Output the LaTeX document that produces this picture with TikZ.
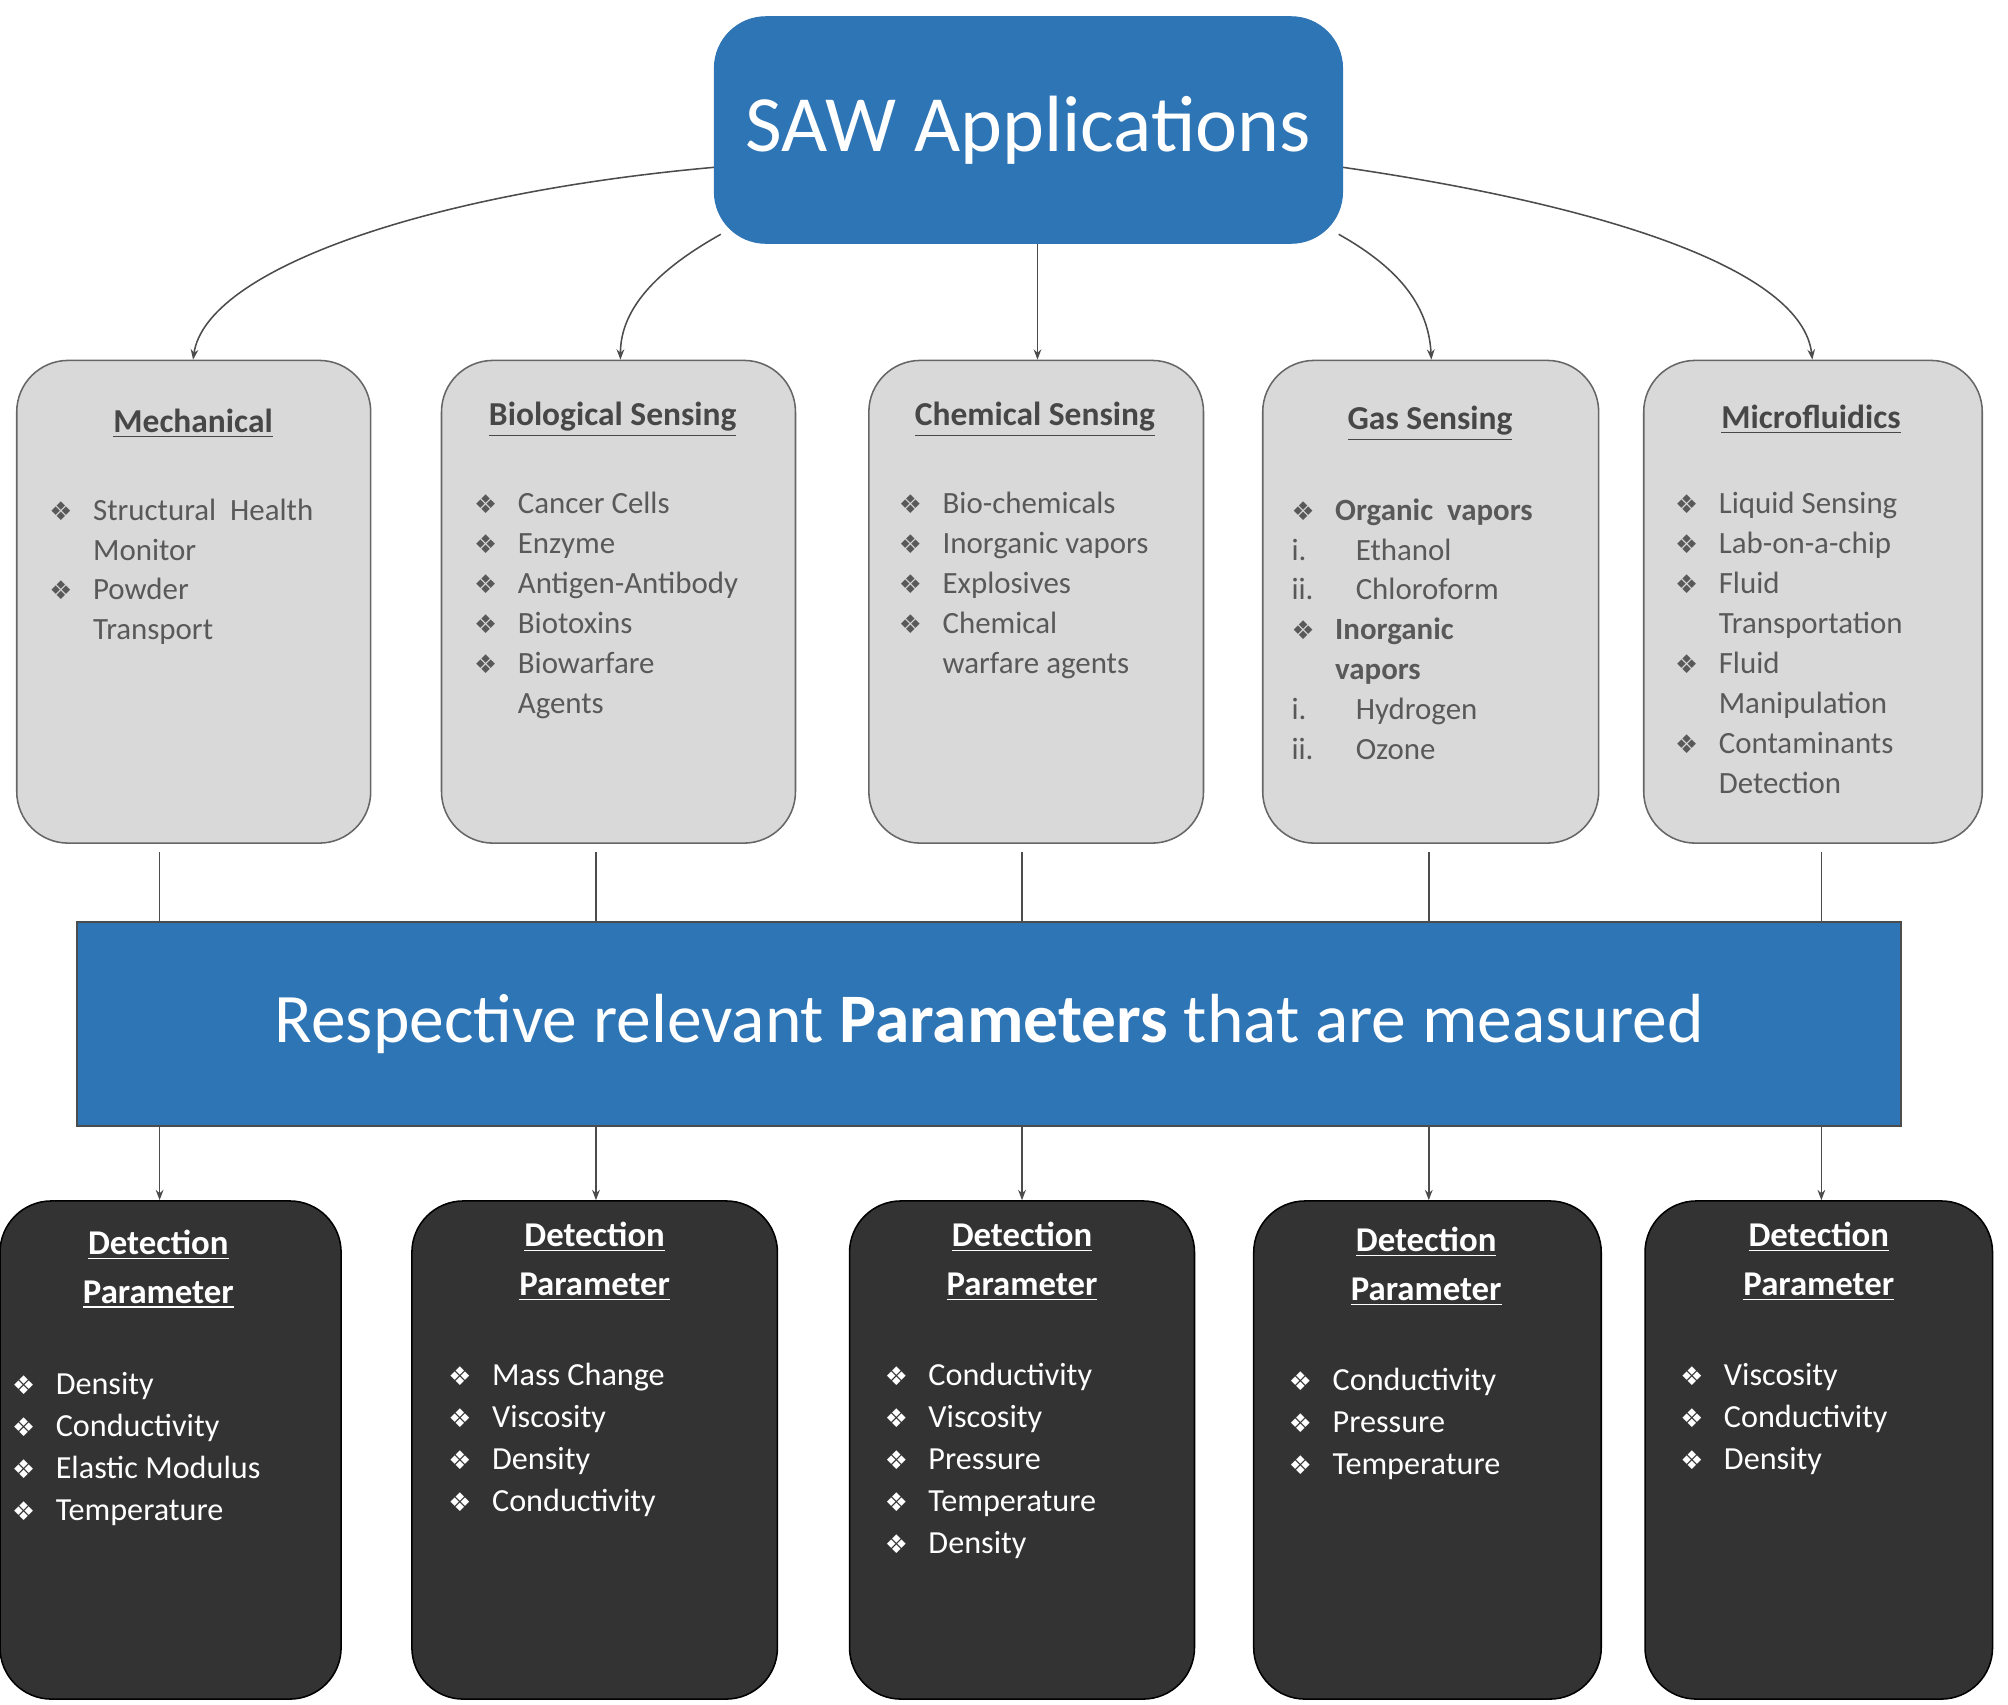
\documentclass[tikz,border=0pt]{standalone}
\usepackage{fontspec}
\setmainfont{Carlito}
\newfontfamily\dejavu{DejaVu Sans}
\usetikzlibrary{arrows.meta}
\definecolor{sawblue}{HTML}{2E75B6}
\definecolor{graybox}{HTML}{D9D9D9}
\definecolor{darkbox}{HTML}{333333}
\definecolor{txtgray}{HTML}{595959}
\newcommand{\bul}{{\dejavu\fontsize{10pt}{10pt}\selectfont ❖}}
\newcommand{\hd}[1]{\textbf{\underline{#1}}}
\begin{document}
\begin{tikzpicture}[x=0.5pt,y=-0.5pt,
  gbox/.style={draw=gray!80!black,fill=graybox,rounded corners=20pt,line width=0.6pt},
  dbox/.style={draw=black,fill=darkbox,rounded corners=20pt,line width=0.6pt},
  conn/.style={draw=gray!60!black,line width=0.6pt},
  arr/.style={conn,-{Stealth[length=4pt,width=3pt]}},
  glist/.style={anchor=north west,inner sep=0pt,text=txtgray,font=\fontsize{12pt}{15.5pt}\selectfont,align=left},
  dlist/.style={anchor=north west,inner sep=0pt,text=white,font=\fontsize{12.5pt}{16.3pt}\selectfont,align=left},
  ghead/.style={text=txtgray!80!black,font=\fontsize{13pt}{15pt}\selectfont,inner sep=0pt},
  dhead/.style={text=white,font=\fontsize{13.5pt}{18pt}\selectfont,align=center,inner sep=0pt}]
\useasboundingbox (0,0) rectangle (1560,1324);
% top
\node[draw=sawblue,fill=sawblue,rounded corners=20pt,minimum width=244pt,minimum height=88pt,text=white,font=\fontsize{31pt}{36pt}\selectfont] (top) at (799,101) {SAW Applications};
% gray boxes
\node[gbox,minimum width=137.5pt,minimum height=187.5pt] (g1) at (150.5,467.5) {};
\node[gbox,minimum width=137.5pt,minimum height=187.5pt] (g2) at (480.5,467.5) {};
\node[gbox,minimum width=130pt,minimum height=187.5pt] (g3) at (805,467.5) {};
\node[gbox,minimum width=130.5pt,minimum height=187.5pt] (g4) at (1111.5,467.5) {};
\node[gbox,minimum width=131.5pt,minimum height=187.5pt] (g5) at (1408.5,467.5) {};
% banner
\node[draw=black!70,fill=sawblue,line width=0.8pt,minimum width=708.5pt,minimum height=79.5pt,text=white,font=\fontsize{27pt}{32pt}\selectfont] (ban) at (768.5,795.5) {Respective relevant \textbf{Parameters} that are measured};
% dark boxes
\node[dbox,minimum width=132.5pt,minimum height=193.5pt] (d1) at (132.5,1126.5) {};
\node[dbox,minimum width=142pt,minimum height=193.5pt] (d2) at (462,1126.5) {};
\node[dbox,minimum width=134pt,minimum height=193.5pt] (d3) at (794,1126.5) {};
\node[dbox,minimum width=135pt,minimum height=193.5pt] (d4) at (1109,1126.5) {};
\node[dbox,minimum width=135pt,minimum height=193.5pt] (d5) at (1413,1126.5) {};
% connectors top
\draw[arr] (top.west |- 0,130) .. controls (330,150) and (160,210) .. (g1.north -| 150,0);
\draw[arr] (560,182) .. controls (510,210) and (482,240) .. (g2.north -| 482,0);
\draw[arr] (top.south -| 806,0) -- (g3.north -| 806,0);
\draw[arr] (1040,182) .. controls (1090,210) and (1110,240) .. (g4.north -| 1112,0);
\draw[arr] (top.east |- 0,130) .. controls (1250,160) and (1400,210) .. (g5.north -| 1408,0);
% gray to banner
\foreach \x/\g in {124/g1,463/g2,794/g3,1110/g4,1415/g5}{
  \draw[conn] (\x,662) -- (ban.north -| \x,0);}
\draw[arr] (ban.south -| 124,0) -- (d1.north -| 124,0);
\draw[arr] (ban.south -| 463,0) -- (d2.north -| 463,0);
\draw[arr] (ban.south -| 794,0) -- (d3.north -| 794,0);
\draw[arr] (ban.south -| 1110,0) -- (d4.north -| 1110,0);
\draw[arr] (ban.south -| 1415,0) -- (d5.north -| 1415,0);
% gray headings
\node[ghead] (h1) at (150,329) {\hd{Mechanical}};
\node[ghead] (h2) at (476,326) {\hd{Biological Sensing}};
\node[ghead] (h3) at (804,326) {\hd{Chemical Sensing}};
\node[ghead] (h4) at (1111,329) {\hd{Gas Sensing}};
\node[ghead] (h5) at (1407,326) {\hd{Microfluidics}};
% gray lists
\node[glist] (l1) at (38,382) {\begin{tabular}{@{}l@{\hspace{8pt}}l@{}}
\bul & Structural\ \ Health\\ & Monitor\\ \bul & Powder\\ & Transport\end{tabular}};
\node[glist] (l2) at (368,377) {\begin{tabular}{@{}l@{\hspace{8pt}}l@{}}
\bul & Cancer Cells\\ \bul & Enzyme\\ \bul & Antigen-Antibody\\ \bul & Biotoxins\\ \bul & Biowarfare\\ & Agents\end{tabular}};
\node[glist] (l3) at (698,377) {\begin{tabular}{@{}l@{\hspace{8pt}}l@{}}
\bul & Bio-chemicals\\ \bul & Inorganic vapors\\ \bul & Explosives\\ \bul & Chemical\\ & warfare agents\end{tabular}};
\node[glist] (l4) at (1003,382) {\begin{tabular}{@{}l@{\hspace{8pt}}l@{}}
\bul & \textbf{Organic\ \ vapors}\\ i. & \hspace{8pt}Ethanol\\ ii. & \hspace{8pt}Chloroform\\ \bul & \textbf{Inorganic}\\ & \textbf{vapors}\\ i. & \hspace{8pt}Hydrogen\\ ii. & \hspace{8pt}Ozone\end{tabular}};
\node[glist] (l5) at (1301,377) {\begin{tabular}{@{}l@{\hspace{8pt}}l@{}}
\bul & Liquid Sensing\\ \bul & Lab-on-a-chip\\ \bul & Fluid\\ & Transportation\\ \bul & Fluid\\ & Manipulation\\ \bul & Contaminants\\ & Detection\end{tabular}};
% dark headings
\node[dhead] (e1) at (123,986) {\hd{Detection}\\[1pt]\hd{Parameter}};
\node[dhead] (e2) at (462,980) {\hd{Detection}\\[1pt]\hd{Parameter}};
\node[dhead] (e3) at (794,980) {\hd{Detection}\\[1pt]\hd{Parameter}};
\node[dhead] (e4) at (1108,984) {\hd{Detection}\\[1pt]\hd{Parameter}};
\node[dhead] (e5) at (1413,980) {\hd{Detection}\\[1pt]\hd{Parameter}};
% dark lists
\node[dlist] (k1) at (9,1060) {\begin{tabular}{@{}l@{\hspace{8pt}}l@{}}
\bul & Density\\ \bul & Conductivity\\ \bul & Elastic Modulus\\ \bul & Temperature\end{tabular}};
\node[dlist] (k2) at (348,1053) {\begin{tabular}{@{}l@{\hspace{8pt}}l@{}}
\bul & Mass Change\\ \bul & Viscosity\\ \bul & Density\\ \bul & Conductivity\end{tabular}};
\node[dlist] (k3) at (687,1053) {\begin{tabular}{@{}l@{\hspace{8pt}}l@{}}
\bul & Conductivity\\ \bul & Viscosity\\ \bul & Pressure\\ \bul & Temperature\\ \bul & Density\end{tabular}};
\node[dlist] (k4) at (1001,1057) {\begin{tabular}{@{}l@{\hspace{8pt}}l@{}}
\bul & Conductivity\\ \bul & Pressure\\ \bul & Temperature\end{tabular}};
\node[dlist] (k5) at (1305,1053) {\begin{tabular}{@{}l@{\hspace{8pt}}l@{}}
\bul & Viscosity\\ \bul & Conductivity\\ \bul & Density\end{tabular}};
\end{tikzpicture}
\end{document}
